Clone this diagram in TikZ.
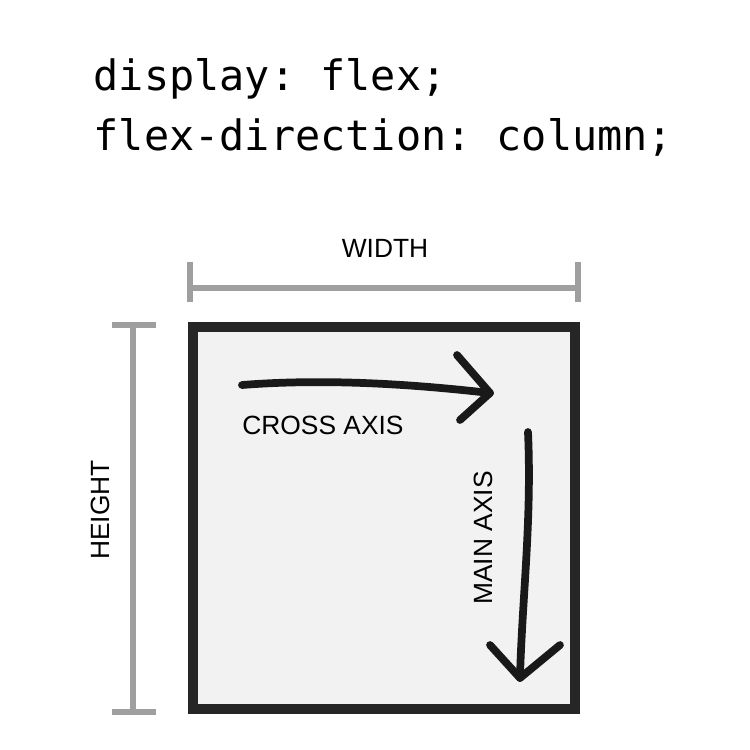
\documentclass[tikz,border=0pt]{standalone}
\usepackage{fontspec}
\setmonofont{DejaVu Sans Mono}
\newfontfamily\hand{Liberation Sans}
\begin{document}
\begin{tikzpicture}[x=0.01cm,y=-0.01cm,
  code/.style={anchor=base west,inner sep=0,font=\ttfamily\fontsize{11.9}{14}\selectfont},
  lbl/.style={inner sep=0,font=\hand\fontsize{7.5}{9}\selectfont},
  ruler/.style={draw=gray!75,line width=6\pgflinewidth,line cap=round},
  axis/.style={draw=black!90,line width=2.2pt,line cap=round,line join=round}]
\useasboundingbox (0,0) rectangle (750,750);
\node[code] (c1) at (93,90) {display: flex;};
\node[code] (c2) at (93,150) {flex-direction: column;};
\draw[fill=black!5,draw=black!85,line width=2.8pt] (193,327) rectangle (575,709);
% width ruler
\coordinate (wl) at (190,288); \coordinate (wr) at (578,288);
\draw[draw=gray!75,line width=1.8pt] (wl) -- (wr) (190,262) -- (190,302) (578,262) -- (578,302);
\node[lbl] (w) at (385,248) {WIDTH};
% height ruler
\coordinate (ht) at (133,325); \coordinate (hb) at (133,712);
\draw[draw=gray!75,line width=1.8pt] (ht) -- (hb) (112,325) -- (156,325) (112,712) -- (156,712);
\node[lbl,rotate=90] (h) at (100,510) {HEIGHT};
% cross axis
\coordinate (cs) at (242,385); \coordinate (ce) at (490,393);
\draw[axis] (cs) .. controls (330,378) and (420,385) .. (ce);
\draw[axis] (457,355) -- (ce) -- (460,420);
\node[lbl] (ca) at (323,425) {CROSS AXIS};
% main axis
\coordinate (ms) at (528,432); \coordinate (me) at (520,678);
\draw[axis] (ms) .. controls (532,520) and (522,600) .. (me);
\draw[axis] (490,645) -- (me) -- (560,645);
\node[lbl,rotate=90] (ma) at (483,538) {MAIN AXIS};
\end{tikzpicture}
\end{document}
